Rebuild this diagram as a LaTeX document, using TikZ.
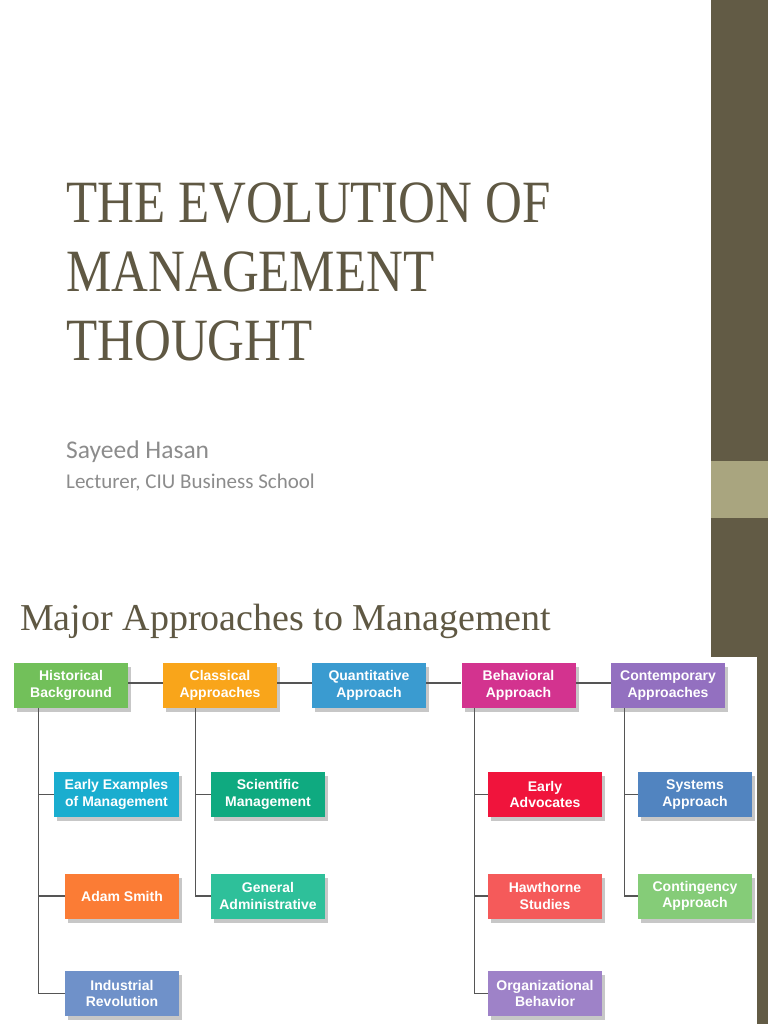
\documentclass[tikz,border=0pt]{standalone}
\usepackage{fontspec}
\setmainfont{Liberation Sans}
\newfontfamily\titlefont[FakeStretch=0.85]{Liberation Serif}
\newfontfamily\headfont{Liberation Serif}
\newfontfamily\subfont{Carlito}
\usetikzlibrary{shadows}
\definecolor{olive}{RGB}{98,91,69}
\definecolor{olivelight}{RGB}{169,165,127}
\definecolor{titlecol}{RGB}{95,88,67}
\definecolor{subgray}{RGB}{140,140,140}
\definecolor{linegray}{RGB}{85,85,85}
\definecolor{cHist}{RGB}{114,192,90}
\definecolor{cClass}{RGB}{249,165,26}
\definecolor{cQuant}{RGB}{58,155,208}
\definecolor{cBehav}{RGB}{211,51,143}
\definecolor{cCont}{RGB}{147,112,192}
\definecolor{cEarlyEx}{RGB}{26,173,207}
\definecolor{cSci}{RGB}{15,170,128}
\definecolor{cAdvoc}{RGB}{240,20,60}
\definecolor{cSys}{RGB}{81,132,192}
\definecolor{cSmith}{RGB}{251,124,53}
\definecolor{cGen}{RGB}{46,192,154}
\definecolor{cHaw}{RGB}{245,90,90}
\definecolor{cConting}{RGB}{133,204,120}
\definecolor{cInd}{RGB}{111,145,201}
\definecolor{cOrg}{RGB}{158,130,200}
\tikzset{
  box/.style={fill=#1, text=white, font=\bfseries\fontsize{14}{16.5}\selectfont,
    align=center, minimum width=114pt, minimum height=45pt, inner sep=0pt,
    drop shadow={shadow xshift=3pt, shadow yshift=-4pt, opacity=0.22, fill=black}},
  link/.style={draw=linegray, line width=1.3pt},
}
\begin{document}
\begin{tikzpicture}[x=1pt,y=-1pt]
\useasboundingbox (0,0) rectangle (768,1024);
\fill[white] (0,0) rectangle (768,1024);
% side bar
\fill[olive] (711,0) rectangle (768,1024);
\fill[olivelight] (711,461) rectangle (768,518);
% title
\node[anchor=base west, text=titlecol, font=\titlefont\fontsize{60}{69}\selectfont, inner sep=0pt, align=left] (title) at (66,360)
  {THE EVOLUTION OF\\MANAGEMENT\\THOUGHT};
\node[anchor=base west, text=subgray, font=\subfont\fontsize{25.5}{25.5}\selectfont, inner sep=0pt] (author) at (66,458) {Sayeed Hasan};
\node[anchor=base west, text=subgray, font=\subfont\fontsize{21}{21}\selectfont, inner sep=0pt] (role) at (66,488) {Lecturer, CIU Business School};
\node[anchor=base west, text=titlecol, font=\headfont\fontsize{38}{38}\selectfont, inner sep=0pt] (heading) at (20,630) {Major Approaches to Management};
% chart image background
\fill[white] (0,657) rectangle (757,1024);
% top row
\node[box=cHist] (H) at (71,685.5) {Historical\\Background};
\node[box=cClass] (C) at (220,685.5) {Classical\\Approaches};
\node[box=cQuant] (Q) at (369,685.5) {Quantitative\\Approach};
\node[box=cBehav] (B) at (518.5,685.5) {Behavioral\\Approach};
\node[box=cCont] (Ct) at (668,685.5) {Contemporary\\Approaches};
% second row
\node[box=cEarlyEx, minimum width=125pt] (EE) at (116.5,794.5) {Early Examples\\of Management};
\node[box=cSci] (SM) at (268,794.5) {Scientific\\Management};
\node[box=cAdvoc] (EA) at (545,794.5) {Early\\Advocates};
\node[box=cSys] (SA) at (695,794.5) {Systems\\Approach};
% third row
\node[box=cSmith] (AS) at (122,896) {Adam Smith};
\node[box=cGen] (GA) at (268,896) {General\\Administrative};
\node[box=cHaw] (HS) at (545,896) {Hawthorne\\Studies};
\node[box=cConting] (CA) at (695,896) {Contingency\\Approach};
% fourth row
\node[box=cInd] (IR) at (122,993.5) {Industrial\\Revolution};
\node[box=cOrg] (OB) at (545,993.5) {Organizational\\Behavior};
% connectors
\draw[link] ([yshift=2.5]H.east) -- ([yshift=2.5]C.west);
\draw[link] ([yshift=2.5]C.east) -- ([yshift=2.5]Q.west);
\draw[link] ([yshift=2.5]Q.east) -- ([yshift=2.5]B.west);
\draw[link] ([yshift=2.5]B.east) -- ([yshift=2.5]Ct.west);
\draw[link] ([xshift=25]H.south west) |- (EE.west);
\draw[link] ([xshift=25]H.south west) |- (AS.west);
\draw[link] ([xshift=25]H.south west) |- (IR.west);
\draw[link] ([xshift=33]C.south west) |- (SM.west);
\draw[link] ([xshift=33]C.south west) |- (GA.west);
\draw[link] ([xshift=13]B.south west) |- (EA.west);
\draw[link] ([xshift=13]B.south west) |- (HS.west);
\draw[link] ([xshift=13]B.south west) |- (OB.west);
\draw[link] ([xshift=14]Ct.south west) |- (SA.west);
\draw[link] ([xshift=14]Ct.south west) |- (CA.west);
\end{tikzpicture}
\end{document}
